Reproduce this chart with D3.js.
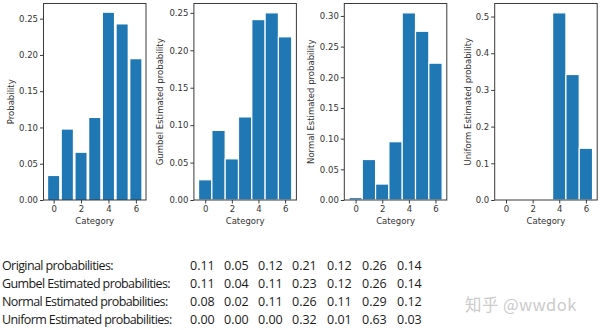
<!DOCTYPE html>
<html>
<head>
<meta charset="utf-8">
<script src="https://cdn.jsdelivr.net/npm/d3@7"></script>
<style>
  body { margin: 0; background: #fff; }
  svg { display: block; }
</style>
</head>
<body>
<div id="chart"></div>
<script>
// categories and bar heights
const categories = [0, 1, 2, 3, 4, 5, 6];
const originalProb = [0.033, 0.097, 0.065, 0.113, 0.258, 0.242, 0.194];
const gumbelProb = [0.027, 0.093, 0.055, 0.111, 0.241, 0.250, 0.218];
const normalProb = [0.004, 0.066, 0.026, 0.095, 0.305, 0.275, 0.223];
const uniformProb = [0, 0, 0, 0, 0.510, 0.342, 0.141];

const panelLabels = ['Probability', 'Gumbel Estimated probability',
  'Normal Estimated probability', 'Uniform Estimated probability'];
const xTicks = [0, 2, 4, 6];

// printed table underneath
const rowLabels = ['Original probabilities:', 'Gumbel Estimated probabilities:',
  'Normal Estimated probabilities:', 'Uniform Estimated probabilities:'];
const rowOriginal = [0.11, 0.05, 0.12, 0.21, 0.12, 0.26, 0.14];
const rowGumbel = [0.11, 0.04, 0.11, 0.23, 0.12, 0.26, 0.14];
const rowNormal = [0.08, 0.02, 0.11, 0.26, 0.11, 0.29, 0.12];
const rowUniform = [0.00, 0.00, 0.00, 0.32, 0.01, 0.63, 0.03];

const W = 600, H = 330;
const svg = d3.select('#chart').append('svg')
  .attr('width', W).attr('height', H);

const blue = '#1f77b4';
const axisCol = '#3a3a3a';
const textCol = '#333';
const tickFont = 'DejaVu Sans, sans-serif';

const panels = [
  { values: originalProb, barW: 0.8, edge: false, step: 0.05, fmt: '.2f' },
  { values: gumbelProb, barW: 1.0, edge: true, step: 0.05, fmt: '.2f' },
  { values: normalProb, barW: 1.0, edge: true, step: 0.05, fmt: '.2f' },
  { values: uniformProb, barW: 1.0, edge: true, step: 0.1, fmt: '.1f' }
];

const axW = 102.5, axTop = 3.5, axBottom = 200;

panels.forEach((p, i) => {
  const left = 43.5 + 150.4 * i;
  const g = svg.append('g').attr('transform', `translate(${left},0)`);

  // matplotlib style limits: 5% margin around the bars
  const lo = -p.barW / 2, hi = 6 + p.barW / 2;
  const pad = (hi - lo) * 0.05;
  const x = d3.scaleLinear().domain([lo - pad, hi + pad]).range([0, axW]);
  const ymax = d3.max(p.values) * 1.05;
  const y = d3.scaleLinear().domain([0, ymax]).range([axBottom, axTop]);

  // bars
  g.selectAll('.bar')
    .data(p.values)
    .enter().append('rect')
    .attr('class', 'bar')
    .attr('x', (d, k) => x(categories[k] - p.barW / 2))
    .attr('y', d => y(d))
    .attr('width', x(p.barW) - x(0))
    .attr('height', d => y(0) - y(d))
    .attr('fill', blue)
    .attr('stroke', p.edge ? '#fff' : 'none')
    .attr('stroke-width', 1.2);

  // axes
  const yTicks = d3.range(0, ymax + 1e-9, p.step);
  const ay = g.append('g')
    .call(d3.axisLeft(y).tickValues(yTicks).tickFormat(d3.format(p.fmt))
      .tickSize(3.5).tickPadding(2));
  const ax = g.append('g')
    .attr('transform', `translate(0,${axBottom})`)
    .call(d3.axisBottom(x).tickValues(xTicks).tickFormat(d3.format('d'))
      .tickSize(3.5).tickPadding(2));
  [ay, ax].forEach(a => {
    a.select('.domain').remove();
    a.selectAll('line').attr('stroke', axisCol);
    a.selectAll('text').attr('fill', textCol)
      .style('font-family', tickFont).style('font-size', '8.5px');
  });

  // frame
  g.append('rect')
    .attr('x', 0).attr('y', axTop)
    .attr('width', axW).attr('height', axBottom - axTop)
    .attr('fill', 'none').attr('stroke', axisCol).attr('stroke-width', 1);

  // labels
  g.append('text')
    .attr('x', axW / 2).attr('y', 224)
    .attr('text-anchor', 'middle')
    .attr('fill', textCol)
    .style('font-family', tickFont).style('font-size', '8.5px')
    .text('Category');

  const lx = [-32, -34, -33, -27][i];
  g.append('text')
    .attr('transform', `translate(${lx},${(axTop + axBottom) / 2}) rotate(-90)`)
    .attr('text-anchor', 'middle')
    .attr('dy', '0.35em')
    .attr('fill', textCol)
    .style('font-family', tickFont).style('font-size', '8.5px')
    .text(panelLabels[i]);
});

// table of printed probabilities
const rows = [rowOriginal, rowGumbel, rowNormal, rowUniform];
const colX = [190, 224, 258, 292, 327, 362, 397];
const rowY = [265.5, 283.5, 301.5, 319.5];
const tbl = svg.append('g')
  .style('font-family', '"Open Sans", sans-serif')
  .style('font-size', '12.5px')
  .attr('fill', '#1a1a1a');

rows.forEach((r, i) => {
  tbl.append('text')
    .attr('x', 2).attr('y', rowY[i]).attr('dy', '0.35em')
    .style('letter-spacing', '-0.6px')
    .text(rowLabels[i]);
  tbl.selectAll(null)
    .data(r)
    .enter().append('text')
    .attr('x', (d, k) => colX[k]).attr('y', rowY[i]).attr('dy', '0.35em')
    .text(d => d3.format('.2f')(d));
});

// watermark
svg.append('text')
  .attr('x', 465).attr('y', 305).attr('dy', '0.35em')
  .attr('fill', '#cbcbcb')
  .style('font-family', '"Noto Sans CJK SC", sans-serif')
  .style('font-size', '16.5px')
  .style('letter-spacing', '0.4px')
  .text('知乎 @wwdok');
</script>
</body>
</html>
